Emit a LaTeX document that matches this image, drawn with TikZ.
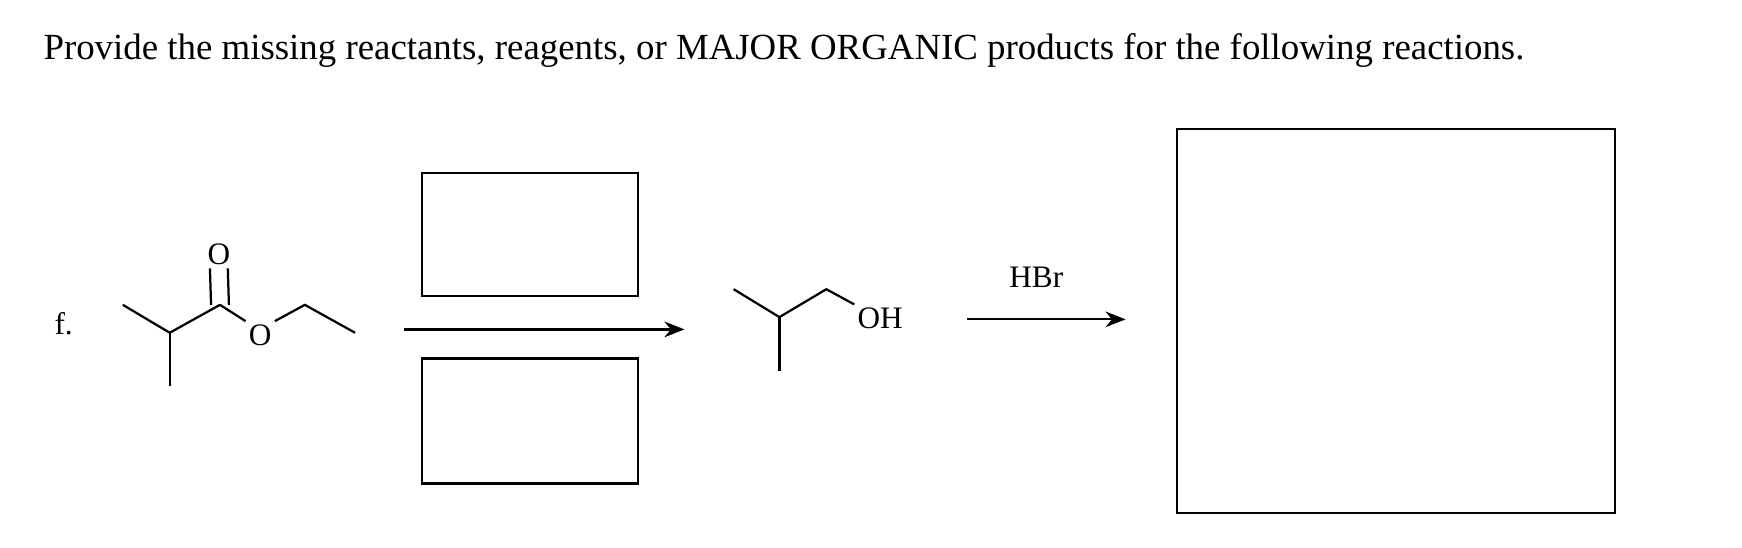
\documentclass[tikz,border=0pt]{standalone}
\usepackage{fontspec}
\setmainfont{Liberation Serif}
\usetikzlibrary{arrows.meta}
\begin{document}
\begin{tikzpicture}[x=0.5pt,y=-0.5pt,line width=1pt,
  bond/.style={line width=1pt},
  ansbox/.style={draw,line width=1pt},
  rxn/.style={-{Stealth[length=9pt,width=7pt]},line width=1pt},
  atom/.style={font=\fontsize{14}{16}\selectfont,inner sep=1pt}]
\useasboundingbox (0,0) rectangle (1560,490);
\node[anchor=base west,font=\fontsize{16.5}{19}\selectfont,inner sep=0] (title) at (38,53) {Provide the missing reactants, reagents, or MAJOR ORGANIC products for the following reactions.};
\node[atom] (f) at (57,290) {f.};
% ester
\coordinate (m1) at (110,273);
\coordinate (ch) at (152,298);
\coordinate (m2) at (152,346);
\coordinate (cc) at (197,273);
\node[atom] (od) at (196,228) {O};
\node[atom] (oe) at (233,300) {O};
\coordinate (c2) at (273,273);
\coordinate (c3) at (318,298);
\draw[bond] (m1)--(ch)--(cc);
\draw[bond] (ch)--(m2);
\draw[bond] ([xshift=-4]cc)--([xshift=-4]od.south);
\draw[bond] ([xshift=4]cc)--([xshift=4]od.south);
\draw[bond] (cc)--(oe.north west);
\draw[bond] (oe.north east)--(c2)--(c3);
% arrows & boxes
\coordinate (a1s) at (362,295);
\coordinate (a1e) at (613,295);
\draw[rxn] (a1s)--(a1e);
\node[ansbox,minimum width=96.5pt,minimum height=55pt] (b1) at (474.5,210) {};
\node[ansbox,minimum width=96.5pt,minimum height=56pt] (b2) at (474.5,377) {};
% alcohol
\coordinate (p1) at (657,259);
\coordinate (p2) at (698,284);
\coordinate (p3) at (740,259);
\coordinate (p4) at (698,332);
\node[atom,anchor=west] (oh) at (765,285) {OH};
\draw[bond] (p1)--(p2)--(p3)--(oh.north west);
\draw[bond] (p2)--(p4);
\coordinate (a2s) at (866,286);
\coordinate (a2e) at (1008,286);
\draw[rxn] (a2s)--(a2e);
\node[atom] (hbr) at (928,248) {HBr};
\node[ansbox,minimum width=196pt,minimum height=172pt] (b3) at (1250,287.5) {};
\end{tikzpicture}
\end{document}
